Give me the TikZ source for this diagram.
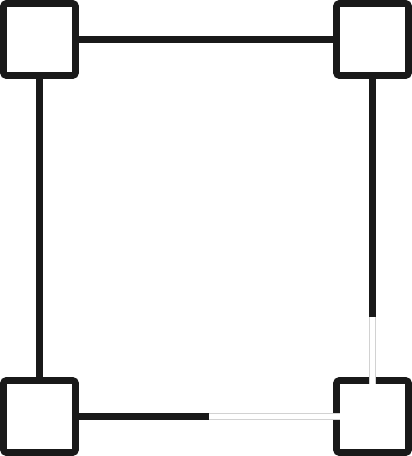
\documentclass[tikz,border=0pt]{standalone}
\begin{document}
\begin{tikzpicture}[x=1pt,y=1pt,
  sq/.style={draw=black!90, line width=6.8pt, minimum size=72pt, inner sep=0pt, rounded corners=3pt, fill=white},
  edge/.style={draw=black!90, line width=6.6pt},
  gapline/.style={draw=gray!35, line width=0.9pt, double=white, double distance=5.6pt}]
\useasboundingbox (0,0) rectangle (412,456);
\node[sq] (tl) at (39.5,416.5) {};
\node[sq] (tr) at (372.5,416.5) {};
\node[sq] (bl) at (39.5,39.5) {};
\node[sq] (br) at (372.5,39.5) {};
\coordinate (rbreak) at (372.5,139);
\coordinate (bbreak) at (209,39.5);
\draw[edge] (tl) -- (tr);
\draw[edge] (tl) -- (bl);
\draw[edge] (tr) -- (rbreak);
\draw[edge] (bl) -- (bbreak);
\draw[gapline] (rbreak) -- ([yshift=-6.8pt]br.north);
\draw[gapline] (bbreak) -- ([xshift=6.8pt]br.west);
\end{tikzpicture}
\end{document}
